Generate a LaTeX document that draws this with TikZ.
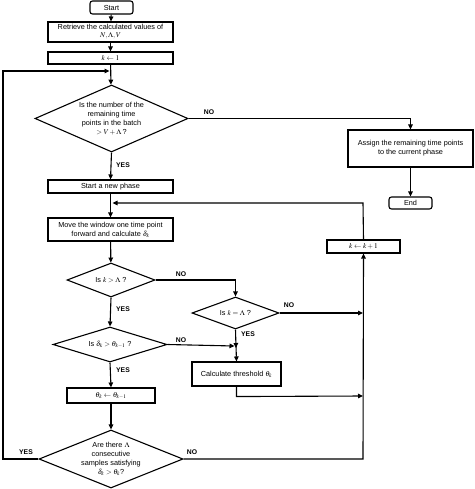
\documentclass[tikz,border=0pt]{standalone}
\usepackage{mathptmx}
\usepackage{fontspec}
\setmainfont{Liberation Sans}
\usetikzlibrary{shapes.geometric,arrows.meta}
\begin{document}
\begin{tikzpicture}[x=1pt,y=-1pt,
  every node/.style={font=\fontsize{7.3}{9}\selectfont, inner sep=0pt, align=center},
  box/.style={draw, line width=1.1pt, rectangle},
  term/.style={draw, line width=1.1pt, rectangle, rounded corners=2.5pt},
  dia/.style={draw, line width=1.1pt, diamond},
  lab/.style={font=\fontsize{6.8}{8}\selectfont\bfseries},
  arr/.style={line width=1.1pt, -{Triangle[length=5pt,width=4.5pt]}}]
\useasboundingbox (0,0) rectangle (474,489);
% nodes
\node[term, minimum width=43pt, minimum height=13pt] (start) at (111.5,7.5) {Start};
\node[box, minimum width=125pt, minimum height=20pt] (retrieve) at (110.5,32) {Retrieve the calculated values of\\[-1pt] $N,\Lambda,V$};
\node[box, minimum width=125pt, minimum height=12pt] (k1) at (110.5,58) {$k\leftarrow 1$};
\node[dia, minimum width=153pt, minimum height=67pt] (d1) at (111.5,118.5) {};
\node at (d1) {Is the number of the\\remaining time\\points in the batch\\$>V+\Lambda$\,?};
\node[box, minimum width=125pt, minimum height=37pt] (assign) at (410.5,148.5) {Assign the remaining time points\\to the current phase};
\node[term, minimum width=43pt, minimum height=12pt] (end) at (410.5,203) {End};
\node[box, minimum width=125pt, minimum height=13pt] (newphase) at (110.5,186.5) {Start a new phase};
\node[box, minimum width=125pt, minimum height=23pt] (move) at (110.5,229.5) {Move the window one time point\\forward and calculate $\delta_k$};
\node[dia, minimum width=88pt, minimum height=34pt] (d2) at (111,280) {};
\node at (d2) {Is $k>\Lambda$ ?};
\node[dia, minimum width=87pt, minimum height=32pt] (d3) at (235.5,313) {};
\node at (d3) {Is $k=\Lambda$ ?};
\node[box, minimum width=73pt, minimum height=13pt] (kk) at (363.5,246.5) {$k\leftarrow k+1$};
\node[dia, minimum width=114pt, minimum height=35pt] (d4) at (110,344.5) {};
\node at (d4) {Is $\delta_k>\theta_{k-1}$ ?};
\node[box, minimum width=89pt, minimum height=24pt] (calc) at (236.5,374) {Calculate threshold $\theta_k$};
\node[box, minimum width=88pt, minimum height=15pt] (theta) at (111,395.5) {$\theta_k\leftarrow\theta_{k-1}$};
\node[dia, minimum width=144pt, minimum height=58pt] (d5) at (111,459) {};
\node at (d5) {Are there $\Lambda$\\consecutive\\samples satisfying\\$\delta_k>\theta_k$?};
% junction coordinates
\coordinate (j1) at (111,71);
\coordinate (j2) at (111,203);
\coordinate (j3) at (236,346);
\coordinate (vx) at (363,0);
% connectors
\draw[arr] (start) -- (retrieve);
\draw[arr] (retrieve) -- (k1);
\draw[arr] (k1) -- (d1);
\draw[arr] (d1.east) -| (assign.north);
\node[lab] at (209,112) {NO};
\draw[arr] (assign) -- (end);
\draw[arr] (d1.south) -- (newphase.north);
\node[lab] at (123,165) {YES};
\draw[arr] (newphase) -- (move);
\draw[arr] (move) -- (d2);
\draw[arr] (d2.east) -| (d3.north);
\node[lab] at (181,274) {NO};
\draw[arr] (d2.south) -- (d4.north);
\node[lab] at (123,309) {YES};
\draw[arr] (d3.east) -- (d3.east -| vx);
\node[lab] at (289,305) {NO};
\draw[arr] (d3.south) -- ([yshift=-2pt]j3);
\node[lab] at (248,334) {YES};
\draw[arr] (d4.east) -- ([xshift=-1.5pt]j3);
\node[lab] at (181,340) {NO};
\draw[arr] (j3) -- (calc.north);
\draw[arr] (calc.south) -- ++(0,10) -- (vx |- 0,396);
\draw[arr] (d4.south) -- (theta.north);
\node[lab] at (123,370) {YES};
\draw[arr] (theta) -- (d5);
\draw[arr] (d5.west) -- (3,459) -- (3,71) -- ([xshift=-1.5pt]j1);
\node[lab] at (26,452) {YES};
\draw[arr] (d5.east) -- (vx |- d5.east) -- (kk.south);
\node[lab] at (192,452) {NO};
\draw[arr] (kk.north) -- (vx |- j2) -- ([xshift=1.5pt]j2);
\end{tikzpicture}
\end{document}
